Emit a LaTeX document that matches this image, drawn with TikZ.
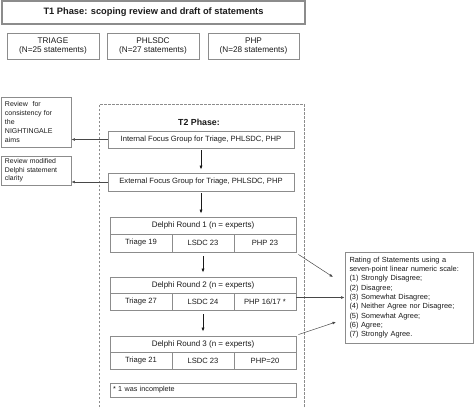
\documentclass[tikz,border=0pt]{standalone}
\usepackage{fontspec}
\setmainfont{Liberation Sans}
\usetikzlibrary{arrows.meta}
\definecolor{boxgray}{HTML}{8C8C8C}
\definecolor{txt}{HTML}{1A1A1A}
\tikzset{
  box/.style={draw=boxgray, line width=0.9pt, inner sep=0pt, align=center, text=txt, font=\fontsize{7.6}{9}\selectfont},
  cell/.style={box, font=\fontsize{7.6}{9}\selectfont},
  lbox/.style={draw=boxgray, line width=0.9pt, inner xsep=4pt, inner ysep=0pt, align=left, text=txt, font=\fontsize{7}{9.2}\selectfont},
  arr/.style={draw=txt, line width=0.7pt, -{Latex[length=4pt,width=3.2pt]}},
  thinarr/.style={draw=txt!80, line width=0.5pt, -{Latex[length=3.5pt,width=2.8pt]}},
}
\begin{document}
\begin{tikzpicture}[x=1pt,y=-1pt]
\useasboundingbox (0,0) rectangle (474,407);
% T1
\node[box, line width=1.3pt, minimum width=303pt, minimum height=23pt, font=\bfseries\fontsize{9.3}{10}\selectfont] (t1) at (153.5,12.5) {T1 Phase: scoping review and draft of statements};
\node[box, minimum width=92pt, minimum height=26pt, font=\fontsize{8.2}{9.6}\selectfont] (tri) at (53,46) {TRIAGE\\(N=25 statements)};
\node[box, minimum width=92pt, minimum height=26pt, font=\fontsize{8.2}{9.6}\selectfont] (phl) at (153,46) {PHLSDC\\(N=27 statements)};
\node[box, minimum width=91pt, minimum height=26pt, font=\fontsize{8.2}{9.6}\selectfont] (php) at (253.5,46) {PHP\\(N=28 statements)};
% T2 frame
\draw[boxgray, line width=0.9pt, dash pattern=on 2.5pt off 1.5pt] (99,407) -- (99,104) -- (304,104) -- (304,407);
\node[text=txt, font=\bfseries\fontsize{8.8}{10}\selectfont] (t2) at (199,122) {T2 Phase:};
\node[box, minimum width=186pt, minimum height=17pt] (int) at (201,139.5) {Internal Focus Group for Triage, PHLSDC, PHP};
\node[box, minimum width=186pt, minimum height=18pt] (ext) at (201,182) {External Focus Group for Triage, PHLSDC, PHP};
% Round 1
\node[cell, minimum width=186pt, minimum height=17pt, font=\fontsize{8}{9}\selectfont] (r1) at (203,225.5) {Delphi Round 1 (n = experts)};
\node[cell, minimum width=62pt, minimum height=18pt] (r1a) at (141,243) {Triage 19};
\node[cell, minimum width=62pt, minimum height=18pt] (r1b) at (203,243) {LSDC 23};
\node[cell, minimum width=62pt, minimum height=18pt] (r1c) at (265,243) {PHP 23};
% Round 2
\node[cell, minimum width=186pt, minimum height=16pt, font=\fontsize{8}{9}\selectfont] (r2) at (203,285) {Delphi Round 2 (n = experts)};
\node[cell, minimum width=62pt, minimum height=17pt] (r2a) at (141,301.5) {Triage 27};
\node[cell, minimum width=62pt, minimum height=17pt] (r2b) at (203,301.5) {LSDC 24};
\node[cell, minimum width=62pt, minimum height=17pt] (r2c) at (265,301.5) {PHP 16/17 *};
% Round 3
\node[cell, minimum width=186pt, minimum height=16pt, font=\fontsize{8}{9}\selectfont] (r3) at (203,344) {Delphi Round 3 (n = experts)};
\node[cell, minimum width=62pt, minimum height=17pt] (r3a) at (141,360.5) {Triage 21};
\node[cell, minimum width=62pt, minimum height=17pt] (r3b) at (203,360.5) {LSDC 23};
\node[cell, minimum width=62pt, minimum height=17pt] (r3c) at (265,360.5) {PHP=20};
% footnote
\node[box, minimum width=186pt, minimum height=14pt, text width=180pt, align=left, font=\fontsize{7.2}{9}\selectfont] (fn) at (203,390) {* 1 was incomplete};
% left boxes
\node[lbox, minimum width=70pt, minimum height=50pt, text width=62pt] (rv1) at (36,122) {Review\ \ for\\consistency for\\the\\NIGHTINGALE\\aims};
\node[lbox, minimum width=70pt, minimum height=29pt, text width=62pt, font=\fontsize{6.9}{8.6}\selectfont] (rv2) at (36,170.5) {Review modified\\Delphi statement\\clarity};
% rating box
\node[lbox, minimum width=128pt, minimum height=91pt, text width=119pt, inner xsep=4.5pt, font=\fontsize{7.4}{9.3}\selectfont] (rate) at (409,297.5) {Rating of Statements using a\\seven-point linear numeric scale:\\(1) Strongly Disagree;\\(2) Disagree;\\(3) Somewhat Disagree;\\(4) Neither Agree nor Disagree;\\(5) Somewhat Agree;\\(6) Agree;\\(7) Strongly Agree.};
% vertical arrows
\draw[arr, shorten <=2pt, shorten >=3pt] (int.south) -- (int.south |- ext.north);
\draw[arr, shorten <=2pt, shorten >=3pt] (ext.south) -- (ext.south |- r1.north);
\draw[arr, shorten <=4pt, shorten >=4pt] (r1b.south) -- (r2.north);
\draw[arr, shorten <=4pt, shorten >=4pt] (r2b.south) -- (r3.north);
% left arrows
\draw[thinarr] (int.west) -- (int.west -| rv1.east);
\draw[thinarr] (ext.west) -- (ext.west -| rv2.east);
% right arrows
\coordinate (p1) at (333,277);
\coordinate (p3) at (336,322);
\draw[thinarr] (r1c.south east) ++(2,2) -- (p1);
\draw[thinarr] (rate.west -| r2c.east) -- (rate.west);
\draw[thinarr] (r3.north east) ++(2,-1) -- (p3);
\end{tikzpicture}
\end{document}
